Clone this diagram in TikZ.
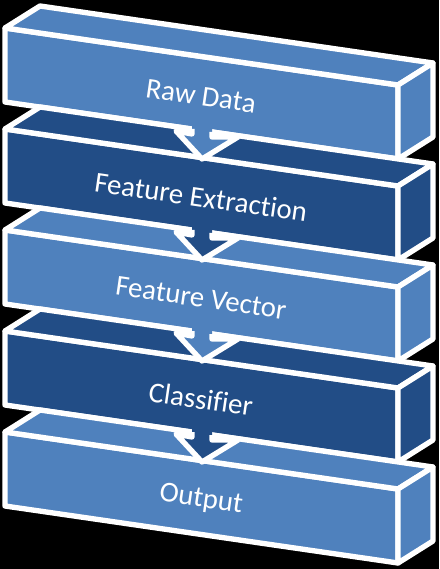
\documentclass[tikz,border=0pt]{standalone}
\usepackage{fontspec}
\setmainfont[Ligatures=NoCommon]{Carlito}
\definecolor{lightblue}{RGB}{79,129,189}
\definecolor{darkblue}{RGB}{34,77,134}
\tikzset{
  face/.style={draw=white, line width=3.8pt, line join=round},
  boxtext/.style={text=white, font=\fontsize{20.5}{24}\selectfont, rotate=-8.3}
}
\begin{document}
\begin{tikzpicture}[x=0.025cm, y=-0.025cm]
\fill [black] (0,0) rectangle (439,569);
% raw data
\draw [face, fill=lightblue] (5,28)--(398,85)--(398,159)--(5,102)--cycle;
\draw [face, fill=lightblue] (5,28)--(40,6)--(433,63)--(398,85)--cycle;
\draw [face, fill=lightblue] (398,85)--(433,63)--(433,137)--(398,159)--cycle;
\node [boxtext] (raw) at (201,96) {Raw Data};
% feature extraction
\begin{scope}[shift={(0,101)}]
\draw [face, fill=darkblue] (5,28)--(398,85)--(398,159)--(5,102)--cycle;
\draw [face, fill=darkblue] (5,28)--(40,6)--(433,63)--(398,85)--cycle;
\draw [face, fill=darkblue] (398,85)--(433,63)--(433,137)--(398,159)--cycle;
\node [boxtext] (extract) at (201,96) {Feature Extraction};
\end{scope}
\fill [lightblue] (192,124)--(192,134)--(176,131)--(202,159)--(238,137)--(212,137)--(212,124)--cycle;
\draw [face] (192,129)--(192,134)--(176,131)--(202,159)--(238,137)--(212,137)--(212,132);
% feature vector
\begin{scope}[shift={(0,202)}]
\draw [face, fill=lightblue] (5,28)--(398,85)--(398,159)--(5,102)--cycle;
\draw [face, fill=lightblue] (5,28)--(40,6)--(433,63)--(398,85)--cycle;
\draw [face, fill=lightblue] (398,85)--(433,63)--(433,137)--(398,159)--cycle;
\node [boxtext] (vector) at (201,96) {Feature Vector};
\end{scope}
\begin{scope}[shift={(0,101)}]
\fill [darkblue] (192,124)--(192,134)--(176,131)--(202,159)--(238,137)--(212,137)--(212,124)--cycle;
\draw [face] (192,129)--(192,134)--(176,131)--(202,159)--(238,137)--(212,137)--(212,132);
\end{scope}
% classifier
\begin{scope}[shift={(0,303)}]
\draw [face, fill=darkblue] (5,28)--(398,85)--(398,159)--(5,102)--cycle;
\draw [face, fill=darkblue] (5,28)--(40,6)--(433,63)--(398,85)--cycle;
\draw [face, fill=darkblue] (398,85)--(433,63)--(433,137)--(398,159)--cycle;
\node [boxtext] (classifier) at (201,96) {Classifier};
\end{scope}
\begin{scope}[shift={(0,202)}]
\fill [lightblue] (192,124)--(192,134)--(176,131)--(202,159)--(238,137)--(212,137)--(212,124)--cycle;
\draw [face] (192,129)--(192,134)--(176,131)--(202,159)--(238,137)--(212,137)--(212,132);
\end{scope}
% output
\begin{scope}[shift={(0,404)}]
\draw [face, fill=lightblue] (5,28)--(398,85)--(398,159)--(5,102)--cycle;
\draw [face, fill=lightblue] (5,28)--(40,6)--(433,63)--(398,85)--cycle;
\draw [face, fill=lightblue] (398,85)--(433,63)--(433,137)--(398,159)--cycle;
\node [boxtext] (output) at (201,96) {Output};
\end{scope}
\begin{scope}[shift={(0,303)}]
\fill [darkblue] (192,124)--(192,134)--(176,131)--(202,159)--(238,137)--(212,137)--(212,124)--cycle;
\draw [face] (192,129)--(192,134)--(176,131)--(202,159)--(238,137)--(212,137)--(212,132);
\end{scope}
\end{tikzpicture}
\end{document}
